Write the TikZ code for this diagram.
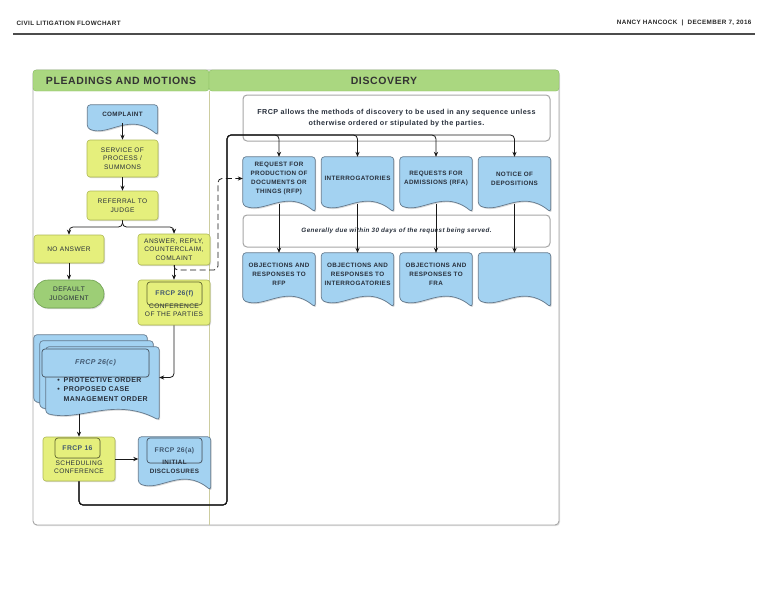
\documentclass[tikz,border=0pt]{standalone}
\usepackage{fontspec}
\setmainfont{Liberation Sans}[LetterSpace=6]
\usetikzlibrary{arrows.meta,calc,backgrounds,shadows}

\definecolor{docfill}{RGB}{163,210,241}
\definecolor{docedge}{RGB}{100,122,142}
\definecolor{boxfill}{RGB}{229,239,124}
\definecolor{boxedge}{RGB}{175,185,85}
\definecolor{endfill}{RGB}{157,206,118}
\definecolor{endedge}{RGB}{110,160,80}
\definecolor{bandfill}{RGB}{170,215,128}
\definecolor{bandedge}{RGB}{135,190,95}
\definecolor{ink}{RGB}{40,48,60}
\definecolor{tagink}{RGB}{65,88,112}
\definecolor{colline}{RGB}{205,205,160}

\newcommand\wavedoc[1]{%
  \path[docpaint, rounded corners=3pt] ($(#1.north west)!0.5!(#1.north east)$) -- (#1.north east)
    -- ($(#1.south east)+(0,12)$)
    .. controls ($(#1.south west)!0.6!(#1.south east)+(0,-12)$) and ($(#1.south west)!0.3!(#1.south east)+(0,14)$) .. ($(#1.south west)+(0,5)$)
    -- (#1.north west) -- cycle;}

\begin{document}
\begin{tikzpicture}[
  x=1pt, y=-1pt,
  >=Stealth,
  band/.style={fill=bandfill, draw=bandedge, rounded corners=3pt, minimum height=21pt, inner sep=0pt, font=\bfseries\fontsize{10.5}{12}\selectfont, text=black!80},
  doc/.style={minimum width=72pt, inner sep=0pt, text width=72pt, align=center, font=\bfseries\fontsize{6.3}{9}\selectfont, text=ink},
  docpaint/.style={fill=docfill, draw=docedge, line width=0.7pt, drop shadow={shadow xshift=1pt, shadow yshift=-1.2pt, opacity=0.3}},
  btxt/.style={inner sep=0pt, align=center, text=ink, font=\fontsize{6.6}{8.5}\selectfont},
  box/.style={btxt, fill=boxfill, draw=boxedge, line width=0.6pt, rounded corners=3pt, minimum width=71pt, drop shadow={shadow xshift=1pt, shadow yshift=-1.2pt, opacity=0.3}},
  fin/.style={box, fill=endfill, draw=endedge, rounded corners=14pt},
  ytag/.style={fill=boxfill, draw=black!45!boxedge, line width=0.7pt, rounded corners=3pt, inner sep=0pt, font=\bfseries\fontsize{6.8}{8}\selectfont, text=tagink, drop shadow={shadow xshift=0.8pt, shadow yshift=-0.8pt, opacity=0.2}},
  btag/.style={ytag, fill=docfill, draw=black!30!docedge},
  note/.style={fill=white, draw=black!35, line width=1pt, rounded corners=4pt, inner sep=0pt, align=center, text=ink},
  arr/.style={-{Stealth[length=5pt,width=4.2pt]}, line width=0.8pt, draw=black!90, rounded corners=4pt}
]
\useasboundingbox (0,0) rectangle (768,594);

\node[anchor=west, font=\bfseries\fontsize{6.3}{7}\selectfont, text=black!85] (ttl) at (13,23) {CIVIL LITIGATION FLOWCHART};
\node[anchor=east, font=\bfseries\fontsize{6.3}{7}\selectfont, text=black!85] (who) at (755,23) {NANCY HANCOCK \ | \ DECEMBER 7, 2016};
\draw[line width=1.2pt, black!70] (13,34) -- (755,34);

\node[band, minimum width=176pt] (pm) at (121,80.5) {PLEADINGS AND MOTIONS};
\node[band, minimum width=350pt] (dsc) at (384,80.5) {DISCOVERY};

\node[doc, minimum width=70pt, text width=70pt, minimum height=18pt] (cmp) at (122.5,114) {COMPLAINT};
\node[box, minimum height=37pt] (srv) at (122.5,158.5) {SERVICE OF\\PROCESS /\\SUMMONS};
\node[box, minimum height=29pt] (ref) at (122.5,205.5) {REFERRAL TO\\JUDGE};
\node[box, minimum width=70pt, minimum height=28pt] (noans) at (69,249) {NO ANSWER};
\node[box, minimum width=72pt, minimum height=31pt] (ans) at (174,249.5) {ANSWER, REPLY,\\COUNTERCLAIM,\\COMLAINT};
\node[fin, minimum width=70pt, minimum height=28pt] (dft) at (69,294) {DEFAULT\\JUDGMENT};
\node[box, minimum width=72pt, minimum height=45pt] (conf) at (174,302.5) {};
\node[ytag, minimum width=55pt, minimum height=23pt] (t26f) at (174.5,293.5) {FRCP 26(f)};
\node[btxt] (confT) at (174,310) {CONFERENCE\\OF THE PARTIES};

\node[doc, minimum width=113pt, minimum height=61pt] (prot3) at (90.5,365.5) {};
\node[doc, minimum width=113pt, minimum height=61pt] (prot2) at (96.5,371.5) {};
\node[doc, minimum width=113pt, minimum height=61pt] (prot) at (102.5,377.5) {};
\node[btag, minimum width=107pt, minimum height=28pt, font=\bfseries\itshape\fontsize{7}{8}\selectfont] (t26c) at (95.5,363) {FRCP 26(c)};
\node[inner sep=0pt, align=left, text=ink, font=\bfseries\fontsize{7}{9.5}\selectfont] (bul) at (102.5,389.5)
  {\textbullet\hspace{4pt}PROTECTIVE ORDER\\\textbullet\hspace{4pt}PROPOSED CASE\\\phantom{\textbullet}\hspace{4pt}MANAGEMENT ORDER};

\node[box, minimum width=72pt, minimum height=44pt] (sched) at (79,459) {};
\node[ytag, minimum width=45pt, minimum height=20pt] (t16) at (77.5,448) {FRCP 16};
\node[btxt] (schedT) at (79,467) {SCHEDULING\\CONFERENCE};
\node[doc, minimum width=71pt, minimum height=41pt] (dis) at (174.5,457.5) {};
\node[btag, minimum width=55pt, minimum height=25pt] (t26a) at (174.5,450.5) {FRCP 26(a)};
\node[doc] (disT) at (174.5,467) {INITIAL\\DISCLOSURES};

\node[note, minimum width=307pt, minimum height=46pt, font=\bfseries\fontsize{7.2}{11.5}\selectfont] (frcp) at (396.5,118)
  {FRCP allows the methods of discovery to be used in any sequence unless\\otherwise ordered or stipulated by the parties.};
\node[doc, minimum height=43pt] (rfp) at (279,178.5) {REQUEST FOR\\PRODUCTION OF\\DOCUMENTS OR\\THINGS (RFP)};
\node[doc, minimum height=43pt] (int) at (357.5,178.5) {INTERROGATORIES};
\node[doc, minimum height=43pt] (rfa) at (436,178.5) {REQUESTS FOR\\ADMISSIONS (RFA)};
\node[doc, minimum height=43pt] (dep) at (514.5,178.5) {NOTICE OF\\DEPOSITIONS};
\node[note, minimum width=307pt, minimum height=32pt, font=\bfseries\itshape\fontsize{6.3}{7}\selectfont] (gen) at (396.5,231)
  {Generally due within 30 days of the request being served.};
\node[doc, minimum height=42pt] (orfp) at (279,274) {OBJECTIONS AND\\RESPONSES TO\\RFP};
\node[doc, minimum height=42pt] (oint) at (357.5,274) {OBJECTIONS AND\\RESPONSES TO\\INTERROGATORIES};
\node[doc, minimum height=42pt] (orfa) at (436,274) {OBJECTIONS AND\\RESPONSES TO\\FRA};
\node[doc, minimum height=42pt] (odep) at (514.5,274) {};

\coordinate (split) at (122.5,227);
\coordinate (dsh) at (218,270);
\coordinate (lo) at (227,505);
\coordinate (hi) at (227,135);

\draw[arr] (cmp.south) -- (srv.north);
\draw[arr] (srv.south) -- (ref.north);
\draw[arr] (ref.south) -- (split) -| (noans.north);
\draw[arr] (ref.south) -- (split) -| (ans.north);
\draw[arr] (noans.south) -- (dft.north);
\draw[arr] (ans.south) -- (conf.north);
\draw[arr, dash pattern=on 6pt off 3.5pt] (ans.south) |- (dsh) |- (rfp.west);
\draw[arr] (conf.south) |- (prot.east);
\draw[arr, shorten <=6pt] (sched.north |- prot.south) -- (sched.north);
\draw[arr] (sched.east) -- (sched.east -| dis.west);
\draw[arr] (sched.south) |- (lo) -- (hi) -| (rfp.north);
\draw[arr] (sched.south) |- (lo) -- (hi) -| (int.north);
\draw[arr] (sched.south) |- (lo) -- (hi) -| (rfa.north);
\draw[arr] (sched.south) |- (lo) -- (hi) -| (dep.north);
\draw[arr, shorten <=4pt] (rfp.south) -- (orfp.north);
\draw[arr, shorten <=4pt] (int.south) -- (oint.north);
\draw[arr, shorten <=4pt] (rfa.south) -- (orfa.north);
\draw[arr, shorten <=4pt] (dep.south) -- (odep.north);

\begin{scope}[on background layer]
\draw[draw=black!35, fill=white, line width=0.9pt, rounded corners=4pt, drop shadow={shadow xshift=1pt, shadow yshift=-1.2pt, opacity=0.25}] (33,70) rectangle (559,525);
\draw[colline, line width=0.8pt] (209,91) -- (209,525);
\wavedoc{cmp}
\wavedoc{prot3}
\wavedoc{prot2}
\wavedoc{prot}
\wavedoc{dis}
\wavedoc{rfp}
\wavedoc{int}
\wavedoc{rfa}
\wavedoc{dep}
\wavedoc{orfp}
\wavedoc{oint}
\wavedoc{orfa}
\wavedoc{odep}
\end{scope}
\end{tikzpicture}
\end{document}
